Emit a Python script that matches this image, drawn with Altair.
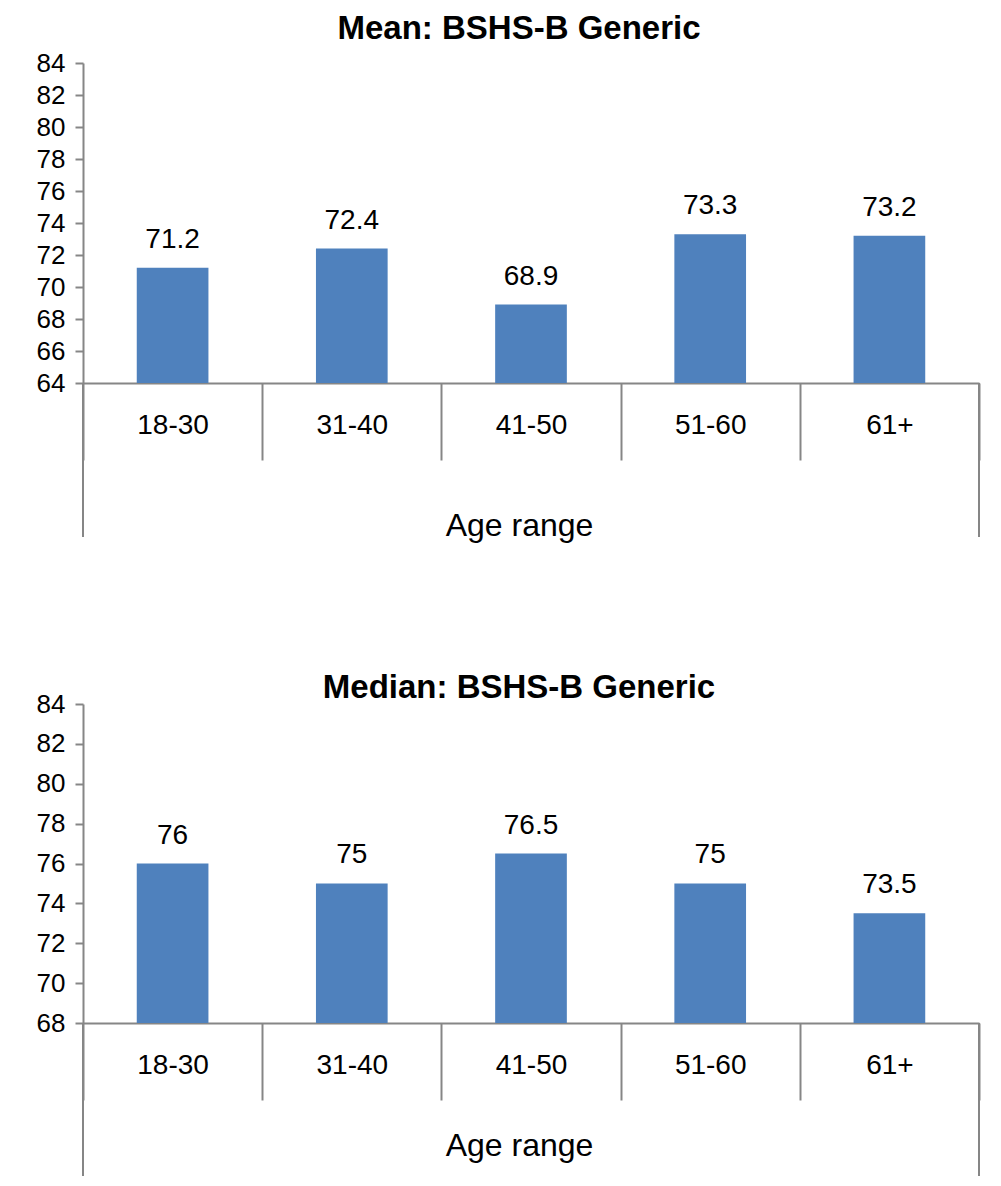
import altair as alt
import pandas as pd

ages = ["18-30", "31-40", "41-50", "51-60", "61+"]
mean_values = [71.2, 72.4, 68.9, 73.3, 73.2]
median_values = [76, 75, 76.5, 75, 73.5]
mean_ticks = [64, 66, 68, 70, 72, 74, 76, 78, 80, 82, 84]
median_ticks = [68, 70, 72, 74, 76, 78, 80, 82, 84]
titles = ["Mean: BSHS-B Generic", "Median: BSHS-B Generic"]
x_title = "Age range"

FONT = "Liberation Sans"
BLUE = "#4F81BD"
GRAY = "#868686"
W = 896


def panel(title, values, ticks, h, title_offset, xtitle_y, edge_len):
    df = pd.DataFrame({"age": ages, "value": values,
                       "label": [f"{v:g}" for v in values]})
    x = alt.X("age:N", sort=ages,
              scale=alt.Scale(paddingInner=0, paddingOuter=0),
              axis=alt.Axis(title=x_title, labelAngle=0, tickBand="extent",
                            tickSize=77, tickColor=GRAY, tickWidth=2,
                            domainColor=GRAY, domainWidth=2,
                            labelFont=FONT, labelFontSize=28, labelColor="black",
                            labelPadding=-48.5,
                            titleFont=FONT, titleFontSize=32,
                            titleFontWeight="normal", titleColor="black",
                            titleX=436, titleY=xtitle_y, titleBaseline="top"))
    y = alt.Y("value:Q",
              scale=alt.Scale(domain=[ticks[0], ticks[-1]], nice=False, zero=False),
              axis=alt.Axis(title=None, values=ticks, grid=False, tickSize=8,
                            tickColor=GRAY, tickWidth=2, domainColor=GRAY,
                            domainWidth=2, labelFont=FONT, labelFontSize=26,
                            labelColor="black", labelPadding=10, minExtent=70,
                            labelOverlap=False))
    base = alt.Chart(df)
    bars = base.mark_bar(color=BLUE, width=alt.RelativeBandSize(0.4)).encode(
        x=x, y=y, y2=alt.datum(ticks[0]))
    text = base.mark_text(font=FONT, fontSize=28, color="black",
                          baseline="alphabetic", dy=-20).encode(
        x=x, y=y, text="label:N")
    edges = alt.Chart(pd.DataFrame({"k": [0]})).mark_rule(color=GRAY, strokeWidth=2)
    left = edges.encode(x=alt.value(0), y=alt.value(h), y2=alt.value(h + edge_len))
    right = edges.encode(x=alt.value(W), y=alt.value(h), y2=alt.value(h + edge_len))
    return alt.layer(bars, text, left, right).properties(
        width=W, height=h,
        title=alt.TitleParams(text=title, font=FONT, fontSize=33,
                              fontWeight="bold", color="black", anchor="middle",
                              frame="group", dx=-12, offset=title_offset,
                              baseline="alphabetic"))


top = panel(titles[0], mean_values, mean_ticks, 320, -22, 127, 154)
bottom = panel(titles[1], median_values, median_ticks, 319, -40, 107, 153)

chart = alt.vconcat(top, bottom, spacing=131).properties(
    padding={"left": 5, "top": 5, "right": 5, "bottom": 5}
).configure_view(stroke=None)

chart.save("out.html", embed_options={"renderer": "svg", "actions": False})
